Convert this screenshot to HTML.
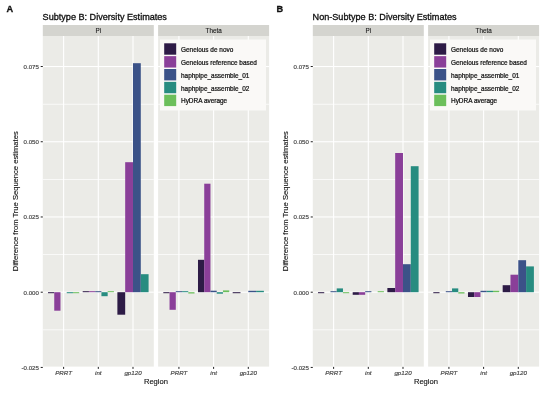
<!DOCTYPE html>
<html><head><meta charset="utf-8"><style>
html,body{margin:0;padding:0;background:#fff;width:550px;height:393px;overflow:hidden}
svg{display:block;font-family:"Liberation Sans", sans-serif;filter:blur(0.3px)}
</style></head><body>
<svg width="550" height="393" viewBox="0 0 550 393">
<rect width="550" height="393" fill="#fff"/>
<text x="6.6" y="11.7" font-size="9.2" font-weight="bold" fill="#111" stroke="#111" stroke-width="0.3">A</text>
<text x="42.6" y="19.8" font-size="9.1" fill="#111" stroke="#111" stroke-width="0.32">Subtype B: Diversity Estimates</text>
<rect x="42.8" y="25" width="111" height="11" fill="#d4d4cf"/>
<text x="98.3" y="33.0" font-size="6.3" fill="#1a1a1a" stroke="#1a1a1a" stroke-width="0.12" text-anchor="middle">Pi</text>
<rect x="42.8" y="36" width="111" height="330.6" fill="#ebebe7"/>
<rect x="42.8" y="103.83" width="111" height="0.7" fill="#fff"/>
<rect x="42.8" y="179.06" width="111" height="0.7" fill="#fff"/>
<rect x="42.8" y="254.28" width="111" height="0.7" fill="#fff"/>
<rect x="42.8" y="329.51" width="111" height="0.7" fill="#fff"/>
<rect x="42.8" y="65.96" width="111" height="1.1" fill="#fff"/>
<rect x="42.8" y="141.19" width="111" height="1.1" fill="#fff"/>
<rect x="42.8" y="216.42" width="111" height="1.1" fill="#fff"/>
<rect x="42.8" y="291.65" width="111" height="1.1" fill="#fff"/>
<rect x="63.06" y="36" width="1.1" height="330.6" fill="#fff"/>
<rect x="97.75" y="36" width="1.1" height="330.6" fill="#fff"/>
<rect x="132.44" y="36" width="1.1" height="330.6" fill="#fff"/>
<rect x="48" y="292.2" width="6.24" height="1" fill="#2d1b46"/>
<rect x="54.25" y="292.2" width="6.24" height="18.5" fill="#8a3f99"/>
<rect x="66.73" y="292.2" width="6.24" height="1" fill="#278c80"/>
<rect x="72.98" y="292.2" width="6.24" height="1" fill="#6cbf5b"/>
<rect x="82.69" y="291.2" width="6.24" height="1" fill="#2d1b46"/>
<rect x="88.93" y="291.2" width="6.24" height="1" fill="#8a3f99"/>
<rect x="95.18" y="291.2" width="6.24" height="1" fill="#3b5288"/>
<rect x="101.42" y="292.2" width="6.24" height="4" fill="#278c80"/>
<rect x="107.67" y="291.2" width="6.24" height="1" fill="#6cbf5b"/>
<rect x="117.38" y="292.2" width="7.8" height="22.5" fill="#2d1b46"/>
<rect x="125.18" y="162.2" width="7.8" height="130" fill="#8a3f99"/>
<rect x="132.99" y="63.2" width="7.8" height="229" fill="#3b5288"/>
<rect x="140.79" y="274.2" width="7.8" height="18" fill="#278c80"/>
<rect x="63.11" y="366.9" width="1" height="2" fill="#222"/>
<text x="63.61" y="375.4" font-size="6.2" font-style="italic" fill="#4d4d4d" stroke="#4d4d4d" stroke-width="0.2" text-anchor="middle">PRRT</text>
<rect x="97.8" y="366.9" width="1" height="2" fill="#222"/>
<text x="98.3" y="375.4" font-size="6.2" font-style="italic" fill="#4d4d4d" stroke="#4d4d4d" stroke-width="0.2" text-anchor="middle">int</text>
<rect x="132.49" y="366.9" width="1" height="2" fill="#222"/>
<text x="132.99" y="375.4" font-size="6.2" font-style="italic" fill="#4d4d4d" stroke="#4d4d4d" stroke-width="0.2" text-anchor="middle">gp120</text>
<rect x="158.1" y="25" width="111" height="11" fill="#d4d4cf"/>
<text x="213.6" y="33.0" font-size="6.3" fill="#1a1a1a" stroke="#1a1a1a" stroke-width="0.12" text-anchor="middle">Theta</text>
<rect x="158.1" y="36" width="111" height="330.6" fill="#ebebe7"/>
<rect x="158.1" y="103.83" width="111" height="0.7" fill="#fff"/>
<rect x="158.1" y="179.06" width="111" height="0.7" fill="#fff"/>
<rect x="158.1" y="254.28" width="111" height="0.7" fill="#fff"/>
<rect x="158.1" y="329.51" width="111" height="0.7" fill="#fff"/>
<rect x="158.1" y="65.96" width="111" height="1.1" fill="#fff"/>
<rect x="158.1" y="141.19" width="111" height="1.1" fill="#fff"/>
<rect x="158.1" y="216.42" width="111" height="1.1" fill="#fff"/>
<rect x="158.1" y="291.65" width="111" height="1.1" fill="#fff"/>
<rect x="178.36" y="36" width="1.1" height="330.6" fill="#fff"/>
<rect x="213.05" y="36" width="1.1" height="330.6" fill="#fff"/>
<rect x="247.74" y="36" width="1.1" height="330.6" fill="#fff"/>
<rect x="163.3" y="292.2" width="6.24" height="1" fill="#2d1b46"/>
<rect x="169.55" y="292.2" width="6.24" height="17.6" fill="#8a3f99"/>
<rect x="175.79" y="291.2" width="6.24" height="1" fill="#3b5288"/>
<rect x="182.03" y="291.2" width="6.24" height="1" fill="#278c80"/>
<rect x="188.28" y="292.2" width="6.24" height="1.3" fill="#6cbf5b"/>
<rect x="197.99" y="259.8" width="6.24" height="32.4" fill="#2d1b46"/>
<rect x="204.23" y="183.7" width="6.24" height="108.5" fill="#8a3f99"/>
<rect x="210.48" y="290.7" width="6.24" height="1.5" fill="#3b5288"/>
<rect x="216.72" y="292.2" width="6.24" height="1.5" fill="#278c80"/>
<rect x="222.97" y="290.4" width="6.24" height="1.8" fill="#6cbf5b"/>
<rect x="232.68" y="292.2" width="7.8" height="1" fill="#2d1b46"/>
<rect x="248.29" y="290.8" width="7.8" height="1.4" fill="#3b5288"/>
<rect x="256.09" y="290.8" width="7.8" height="1.4" fill="#278c80"/>
<rect x="178.41" y="366.9" width="1" height="2" fill="#222"/>
<text x="178.91" y="375.4" font-size="6.2" font-style="italic" fill="#4d4d4d" stroke="#4d4d4d" stroke-width="0.2" text-anchor="middle">PRRT</text>
<rect x="213.1" y="366.9" width="1" height="2" fill="#222"/>
<text x="213.6" y="375.4" font-size="6.2" font-style="italic" fill="#4d4d4d" stroke="#4d4d4d" stroke-width="0.2" text-anchor="middle">int</text>
<rect x="247.79" y="366.9" width="1" height="2" fill="#222"/>
<text x="248.29" y="375.4" font-size="6.2" font-style="italic" fill="#4d4d4d" stroke="#4d4d4d" stroke-width="0.2" text-anchor="middle">gp120</text>
<rect x="40.7" y="66.01" width="2.1" height="1" fill="#222"/>
<text x="38.8" y="69.01" font-size="6.1" fill="#4d4d4d" stroke="#4d4d4d" stroke-width="0.2" text-anchor="end">0.075</text>
<rect x="40.7" y="141.24" width="2.1" height="1" fill="#222"/>
<text x="38.8" y="144.24" font-size="6.1" fill="#4d4d4d" stroke="#4d4d4d" stroke-width="0.2" text-anchor="end">0.050</text>
<rect x="40.7" y="216.47" width="2.1" height="1" fill="#222"/>
<text x="38.8" y="219.47" font-size="6.1" fill="#4d4d4d" stroke="#4d4d4d" stroke-width="0.2" text-anchor="end">0.025</text>
<rect x="40.7" y="291.7" width="2.1" height="1" fill="#222"/>
<text x="38.8" y="294.7" font-size="6.1" fill="#4d4d4d" stroke="#4d4d4d" stroke-width="0.2" text-anchor="end">0.000</text>
<rect x="40.7" y="366.93" width="2.1" height="1" fill="#222"/>
<text x="38.8" y="369.93" font-size="6.1" fill="#4d4d4d" stroke="#4d4d4d" stroke-width="0.2" text-anchor="end">-0.025</text>
<text transform="translate(18.4,201.3) rotate(-90)" font-size="7.6" fill="#111" stroke="#111" stroke-width="0.12" text-anchor="middle">Difference from True Sequence estimates</text>
<text x="155.95" y="384.2" font-size="7.6" fill="#111" stroke="#111" stroke-width="0.12" text-anchor="middle">Region</text>
<rect x="160" y="39.5" width="106" height="71" fill="#faf9f7"/>
<rect x="164.2" y="43.3" width="12" height="11.4" fill="#2d1b46"/>
<text x="181" y="52" font-size="6.45" fill="#111" stroke="#111" stroke-width="0.22">Geneious de novo</text>
<rect x="164.2" y="56.15" width="12" height="11.4" fill="#8a3f99"/>
<text x="181" y="64.85" font-size="6.45" fill="#111" stroke="#111" stroke-width="0.22">Geneious reference based</text>
<rect x="164.2" y="69" width="12" height="11.4" fill="#3b5288"/>
<text x="181" y="77.7" font-size="6.45" fill="#111" stroke="#111" stroke-width="0.22">haphpipe_assemble_01</text>
<rect x="164.2" y="81.85" width="12" height="11.4" fill="#278c80"/>
<text x="181" y="90.55" font-size="6.45" fill="#111" stroke="#111" stroke-width="0.22">haphpipe_assemble_02</text>
<rect x="164.2" y="94.7" width="12" height="11.4" fill="#6cbf5b"/>
<text x="181" y="103.4" font-size="6.45" fill="#111" stroke="#111" stroke-width="0.22">HyDRA average</text>
<text x="276.6" y="11.7" font-size="9.2" font-weight="bold" fill="#111" stroke="#111" stroke-width="0.3">B</text>
<text x="312.6" y="19.8" font-size="9.1" fill="#111" stroke="#111" stroke-width="0.32">Non-Subtype B: Diversity Estimates</text>
<rect x="312.8" y="25" width="111" height="11" fill="#d4d4cf"/>
<text x="368.3" y="33.0" font-size="6.3" fill="#1a1a1a" stroke="#1a1a1a" stroke-width="0.12" text-anchor="middle">Pi</text>
<rect x="312.8" y="36" width="111" height="330.6" fill="#ebebe7"/>
<rect x="312.8" y="103.83" width="111" height="0.7" fill="#fff"/>
<rect x="312.8" y="179.06" width="111" height="0.7" fill="#fff"/>
<rect x="312.8" y="254.28" width="111" height="0.7" fill="#fff"/>
<rect x="312.8" y="329.51" width="111" height="0.7" fill="#fff"/>
<rect x="312.8" y="65.96" width="111" height="1.1" fill="#fff"/>
<rect x="312.8" y="141.19" width="111" height="1.1" fill="#fff"/>
<rect x="312.8" y="216.42" width="111" height="1.1" fill="#fff"/>
<rect x="312.8" y="291.65" width="111" height="1.1" fill="#fff"/>
<rect x="333.06" y="36" width="1.1" height="330.6" fill="#fff"/>
<rect x="367.75" y="36" width="1.1" height="330.6" fill="#fff"/>
<rect x="402.44" y="36" width="1.1" height="330.6" fill="#fff"/>
<rect x="318" y="292.2" width="6.24" height="1" fill="#2d1b46"/>
<rect x="330.49" y="291.2" width="6.24" height="1" fill="#3b5288"/>
<rect x="336.73" y="288.4" width="6.24" height="3.8" fill="#278c80"/>
<rect x="342.98" y="292.2" width="6.24" height="1" fill="#6cbf5b"/>
<rect x="352.69" y="292.2" width="6.24" height="2.6" fill="#2d1b46"/>
<rect x="358.93" y="292.2" width="6.24" height="2.6" fill="#8a3f99"/>
<rect x="365.18" y="291.2" width="6.24" height="1" fill="#3b5288"/>
<rect x="377.67" y="291.2" width="6.24" height="1" fill="#6cbf5b"/>
<rect x="387.38" y="288" width="7.8" height="4.2" fill="#2d1b46"/>
<rect x="395.18" y="153" width="7.8" height="139.2" fill="#8a3f99"/>
<rect x="402.99" y="264.2" width="7.8" height="28" fill="#3b5288"/>
<rect x="410.79" y="166.2" width="7.8" height="126" fill="#278c80"/>
<rect x="333.11" y="366.9" width="1" height="2" fill="#222"/>
<text x="333.61" y="375.4" font-size="6.2" font-style="italic" fill="#4d4d4d" stroke="#4d4d4d" stroke-width="0.2" text-anchor="middle">PRRT</text>
<rect x="367.8" y="366.9" width="1" height="2" fill="#222"/>
<text x="368.3" y="375.4" font-size="6.2" font-style="italic" fill="#4d4d4d" stroke="#4d4d4d" stroke-width="0.2" text-anchor="middle">int</text>
<rect x="402.49" y="366.9" width="1" height="2" fill="#222"/>
<text x="402.99" y="375.4" font-size="6.2" font-style="italic" fill="#4d4d4d" stroke="#4d4d4d" stroke-width="0.2" text-anchor="middle">gp120</text>
<rect x="428.1" y="25" width="111" height="11" fill="#d4d4cf"/>
<text x="483.6" y="33.0" font-size="6.3" fill="#1a1a1a" stroke="#1a1a1a" stroke-width="0.12" text-anchor="middle">Theta</text>
<rect x="428.1" y="36" width="111" height="330.6" fill="#ebebe7"/>
<rect x="428.1" y="103.83" width="111" height="0.7" fill="#fff"/>
<rect x="428.1" y="179.06" width="111" height="0.7" fill="#fff"/>
<rect x="428.1" y="254.28" width="111" height="0.7" fill="#fff"/>
<rect x="428.1" y="329.51" width="111" height="0.7" fill="#fff"/>
<rect x="428.1" y="65.96" width="111" height="1.1" fill="#fff"/>
<rect x="428.1" y="141.19" width="111" height="1.1" fill="#fff"/>
<rect x="428.1" y="216.42" width="111" height="1.1" fill="#fff"/>
<rect x="428.1" y="291.65" width="111" height="1.1" fill="#fff"/>
<rect x="448.36" y="36" width="1.1" height="330.6" fill="#fff"/>
<rect x="483.05" y="36" width="1.1" height="330.6" fill="#fff"/>
<rect x="517.74" y="36" width="1.1" height="330.6" fill="#fff"/>
<rect x="433.3" y="292.2" width="6.24" height="1" fill="#2d1b46"/>
<rect x="445.79" y="291.2" width="6.24" height="1" fill="#3b5288"/>
<rect x="452.03" y="288.4" width="6.24" height="3.8" fill="#278c80"/>
<rect x="458.28" y="292.2" width="6.24" height="1.3" fill="#6cbf5b"/>
<rect x="467.99" y="292.2" width="6.24" height="4.8" fill="#2d1b46"/>
<rect x="474.23" y="292.2" width="6.24" height="4.8" fill="#8a3f99"/>
<rect x="480.48" y="290.8" width="6.24" height="1.4" fill="#3b5288"/>
<rect x="486.72" y="290.8" width="6.24" height="1.4" fill="#278c80"/>
<rect x="492.97" y="290.8" width="6.24" height="1.4" fill="#6cbf5b"/>
<rect x="502.68" y="285.2" width="7.8" height="7" fill="#2d1b46"/>
<rect x="510.48" y="274.7" width="7.8" height="17.5" fill="#8a3f99"/>
<rect x="518.29" y="260.2" width="7.8" height="32" fill="#3b5288"/>
<rect x="526.09" y="266.4" width="7.8" height="25.8" fill="#278c80"/>
<rect x="448.41" y="366.9" width="1" height="2" fill="#222"/>
<text x="448.91" y="375.4" font-size="6.2" font-style="italic" fill="#4d4d4d" stroke="#4d4d4d" stroke-width="0.2" text-anchor="middle">PRRT</text>
<rect x="483.1" y="366.9" width="1" height="2" fill="#222"/>
<text x="483.6" y="375.4" font-size="6.2" font-style="italic" fill="#4d4d4d" stroke="#4d4d4d" stroke-width="0.2" text-anchor="middle">int</text>
<rect x="517.79" y="366.9" width="1" height="2" fill="#222"/>
<text x="518.29" y="375.4" font-size="6.2" font-style="italic" fill="#4d4d4d" stroke="#4d4d4d" stroke-width="0.2" text-anchor="middle">gp120</text>
<rect x="310.7" y="66.01" width="2.1" height="1" fill="#222"/>
<text x="308.8" y="69.01" font-size="6.1" fill="#4d4d4d" stroke="#4d4d4d" stroke-width="0.2" text-anchor="end">0.075</text>
<rect x="310.7" y="141.24" width="2.1" height="1" fill="#222"/>
<text x="308.8" y="144.24" font-size="6.1" fill="#4d4d4d" stroke="#4d4d4d" stroke-width="0.2" text-anchor="end">0.050</text>
<rect x="310.7" y="216.47" width="2.1" height="1" fill="#222"/>
<text x="308.8" y="219.47" font-size="6.1" fill="#4d4d4d" stroke="#4d4d4d" stroke-width="0.2" text-anchor="end">0.025</text>
<rect x="310.7" y="291.7" width="2.1" height="1" fill="#222"/>
<text x="308.8" y="294.7" font-size="6.1" fill="#4d4d4d" stroke="#4d4d4d" stroke-width="0.2" text-anchor="end">0.000</text>
<rect x="310.7" y="366.93" width="2.1" height="1" fill="#222"/>
<text x="308.8" y="369.93" font-size="6.1" fill="#4d4d4d" stroke="#4d4d4d" stroke-width="0.2" text-anchor="end">-0.025</text>
<text transform="translate(288.4,201.3) rotate(-90)" font-size="7.6" fill="#111" stroke="#111" stroke-width="0.12" text-anchor="middle">Difference from True Sequence estimates</text>
<text x="425.95" y="384.2" font-size="7.6" fill="#111" stroke="#111" stroke-width="0.12" text-anchor="middle">Region</text>
<rect x="430" y="39.5" width="106" height="71" fill="#faf9f7"/>
<rect x="434.2" y="43.3" width="12" height="11.4" fill="#2d1b46"/>
<text x="451" y="52" font-size="6.45" fill="#111" stroke="#111" stroke-width="0.22">Geneious de novo</text>
<rect x="434.2" y="56.15" width="12" height="11.4" fill="#8a3f99"/>
<text x="451" y="64.85" font-size="6.45" fill="#111" stroke="#111" stroke-width="0.22">Geneious reference based</text>
<rect x="434.2" y="69" width="12" height="11.4" fill="#3b5288"/>
<text x="451" y="77.7" font-size="6.45" fill="#111" stroke="#111" stroke-width="0.22">haphpipe_assemble_01</text>
<rect x="434.2" y="81.85" width="12" height="11.4" fill="#278c80"/>
<text x="451" y="90.55" font-size="6.45" fill="#111" stroke="#111" stroke-width="0.22">haphpipe_assemble_02</text>
<rect x="434.2" y="94.7" width="12" height="11.4" fill="#6cbf5b"/>
<text x="451" y="103.4" font-size="6.45" fill="#111" stroke="#111" stroke-width="0.22">HyDRA average</text>
</svg>
</body></html>
